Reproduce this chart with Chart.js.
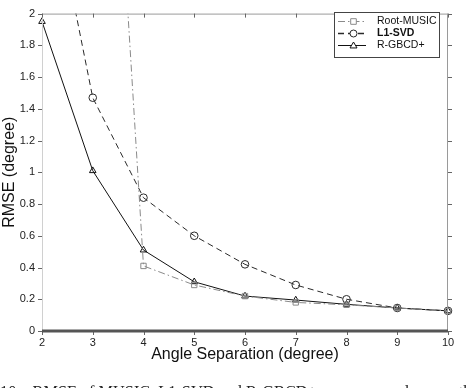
<!DOCTYPE html>
<html>
<head>
<meta charset="utf-8">
<script src="https://cdn.jsdelivr.net/npm/chart.js@4.4.1/dist/chart.umd.min.js"></script>
<style>
  html, body { margin: 0; padding: 0; background: #fff; overflow: hidden; }
  #wrap { position: relative; width: 474px; height: 388px; overflow: hidden; }
  #caption { position: absolute; left: 0px; top: 382px; white-space: nowrap;
    font-family: "Liberation Serif", "DejaVu Serif", serif; font-size: 16.3px; color: #222; }
</style>
</head>
<body>
<div id="wrap">
  <canvas id="c" width="474" height="388"></canvas>
  <div id="caption">10.&nbsp;&nbsp; RMSE of MUSIC, L1-SVD and R-GBCD+ are compared versus the angle separation.</div>
</div>
<script>
// ---- data ----
const angles = [2, 3, 4, 5, 6, 7, 8, 9, 10];
const rootMusic = [null, 5.6, 0.41, 0.29, 0.22, 0.18, 0.165, 0.145, 0.127];
const l1Svd     = [3.07, 1.47, 0.84, 0.60, 0.42, 0.29, 0.20, 0.145, 0.127];
const rGbcd     = [1.95, 1.01, 0.51, 0.31, 0.22, 0.195, 0.168, 0.145, 0.127];
const seriesNames = ['Root-MUSIC', 'L1-SVD', 'R-GBCD+'];
const xTicks = [2, 3, 4, 5, 6, 7, 8, 9, 10];
const yTicks = [0, 0.2, 0.4, 0.6, 0.8, 1, 1.2, 1.4, 1.6, 1.8, 2];
const xTitle = 'Angle Separation (degree)';
const yTitle = 'RMSE (degree)';

const toPts = arr => angles.map((x, i) => ({ x: x, y: arr[i] }));
const FONT = '"Liberation Sans", Arial, Helvetica, sans-serif';

const styles = [
  { color: '#8a8a8a', dash: [7, 3, 1.5, 3], point: 'rect', width: 1 },
  { color: '#2a2a2a', dash: [6, 4], point: 'circle', width: 1 },
  { color: '#111111', dash: [], point: 'triangle', width: 1 }
];
const seriesData = [rootMusic, l1Svd, rGbcd];

const datasets = seriesData.map((arr, i) => ({
  label: seriesNames[i],
  data: toPts(arr),
  borderColor: styles[i].color,
  borderWidth: styles[i].width,
  borderDash: styles[i].dash,
  pointStyle: styles[i].point,
  pointRadius: 3.8,
  pointBorderWidth: 1,
  pointBorderColor: styles[i].color,
  pointBackgroundColor: 'rgba(0,0,0,0)',
  tension: 0,
  spanGaps: false,
  clip: { left: 6, right: 6, top: 0, bottom: 6 }
}));

const framePlugin = {
  id: 'frame',
  afterDraw(chart) {
    const ctx = chart.ctx;
    const a = chart.chartArea;
    const xs = chart.scales.x, ys = chart.scales.y;
    ctx.save();
    // frame
    ctx.setLineDash([]);
    ctx.lineWidth = 1;
    ctx.strokeStyle = '#d0d0d0';
    ctx.beginPath(); ctx.moveTo(a.left + 0.5, a.top); ctx.lineTo(a.left + 0.5, a.bottom); ctx.stroke();
    ctx.strokeStyle = '#9a9a9a';
    ctx.beginPath(); ctx.moveTo(a.left, a.top + 0.5); ctx.lineTo(a.right, a.top + 0.5); ctx.stroke();
    ctx.beginPath(); ctx.moveTo(a.right - 0.5, a.top); ctx.lineTo(a.right - 0.5, a.bottom); ctx.stroke();
    // ticks
    ctx.strokeStyle = '#666';
    xTicks.forEach(v => {
      const px = Math.round(xs.getPixelForValue(v)) + 0.5;
      ctx.beginPath(); ctx.moveTo(px, a.top); ctx.lineTo(px, a.top + 4); ctx.stroke();
      ctx.beginPath(); ctx.moveTo(px, a.bottom); ctx.lineTo(px, a.bottom + 4); ctx.stroke();
    });
    yTicks.forEach(v => {
      const py = Math.round(ys.getPixelForValue(v)) + 0.5;
      ctx.beginPath(); ctx.moveTo(a.left - 4, py); ctx.lineTo(a.left, py); ctx.stroke();
      ctx.beginPath(); ctx.moveTo(a.right, py); ctx.lineTo(a.right + 4, py); ctx.stroke();
    });
    // bottom axis (thick)
    ctx.strokeStyle = '#555';
    ctx.lineWidth = 3;
    ctx.beginPath(); ctx.moveTo(a.left, a.bottom); ctx.lineTo(a.right, a.bottom); ctx.stroke();

    // axis titles
    ctx.fillStyle = '#111';
    ctx.font = '16px ' + FONT;
    ctx.textAlign = 'center';
    ctx.textBaseline = 'middle';
    ctx.fillText(xTitle, (a.left + a.right) / 2, 355);
    ctx.save();
    ctx.translate(10, (a.top + a.bottom) / 2);
    ctx.rotate(-Math.PI / 2);
    ctx.fillText(yTitle, 0, 0);
    ctx.restore();

    // legend box
    const bx = 334, by = 12, bw = 105, bh = 45;
    ctx.fillStyle = '#fff';
    ctx.fillRect(bx, by, bw, bh);
    ctx.lineWidth = 1;
    ctx.strokeStyle = '#444';
    ctx.strokeRect(bx + 0.5, by + 0.5, bw, bh);
    const rows = [21, 33, 45];
    chart.data.datasets.forEach((ds, i) => {
      const y = rows[i] + 0.5;
      ctx.strokeStyle = ds.borderColor;
      ctx.lineWidth = i === 1 ? 1.5 : 1;
      ctx.setLineDash(ds.borderDash);
      ctx.beginPath(); ctx.moveTo(338, y); ctx.lineTo(366, y); ctx.stroke();
      ctx.setLineDash([]);
      ctx.lineWidth = 1;
      // marker
      const mx = 353.5, r = 3.5;
      ctx.fillStyle = '#fff';
      ctx.beginPath();
      if (ds.pointStyle === 'rect') {
        ctx.rect(mx - r * 0.8, y - r * 0.8, r * 1.6, r * 1.6);
      } else if (ds.pointStyle === 'circle') {
        ctx.arc(mx, y, r, 0, Math.PI * 2);
      } else {
        ctx.moveTo(mx, y - r); ctx.lineTo(mx + r, y + r * 0.7); ctx.lineTo(mx - r, y + r * 0.7); ctx.closePath();
      }
      ctx.fill(); ctx.stroke();
      ctx.fillStyle = '#111';
      ctx.font = (i === 1 ? 'bold ' : '') + '10.5px ' + FONT;
      ctx.textAlign = 'left';
      ctx.textBaseline = 'middle';
      ctx.fillText(ds.label, 377, y);
    });
    ctx.restore();
  }
};

new Chart(document.getElementById('c'), {
  type: 'line',
  data: { datasets: datasets },
  options: {
    responsive: false,
    animation: false,
    layout: { padding: { left: 0, right: 26, top: 3, bottom: 0 } },
    plugins: { legend: { display: false }, tooltip: { enabled: false } },
    scales: {
      x: {
        type: 'linear', min: 2, max: 10,
        afterFit: s => { s.height = 57; },
        afterBuildTicks: s => { s.ticks = xTicks.map(v => ({ value: v })); },
        grid: { display: false, drawTicks: false },
        border: { display: false },
        ticks: { padding: 5, color: '#222', font: { family: FONT, size: 11 }, maxRotation: 0 }
      },
      y: {
        type: 'linear', min: 0, max: 2,
        afterFit: s => { s.width = 42; },
        afterBuildTicks: s => { s.ticks = yTicks.map(v => ({ value: v })); },
        grid: { display: false, drawTicks: false },
        border: { display: false },
        ticks: { padding: 7, color: '#222', font: { family: FONT, size: 11 },
          callback: v => String(Math.round(v * 10) / 10) }
      }
    }
  },
  plugins: [framePlugin]
});
</script>
</body>
</html>
